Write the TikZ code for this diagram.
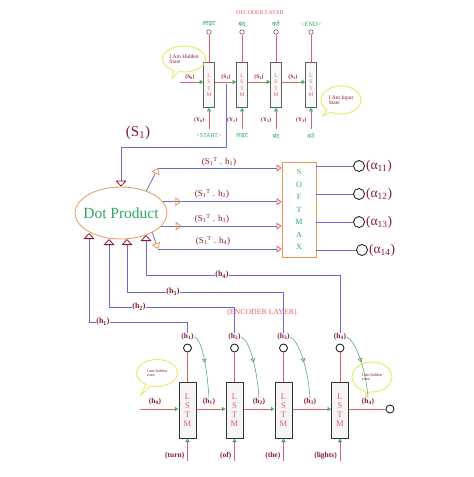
\documentclass[tikz,border=0pt]{standalone}
\usepackage{fontspec}
\setmainfont{Liberation Serif}
\newfontfamily\deva[Script=Devanagari]{Noto Sans}
\usetikzlibrary{arrows.meta,shapes.geometric,shapes.callouts,decorations.markings}
\definecolor{lred}{RGB}{225,95,105}
\definecolor{mar}{RGB}{135,25,55}
\definecolor{lblue}{RGB}{105,105,215}
\definecolor{grn}{RGB}{45,170,95}
\definecolor{org}{RGB}{240,150,85}
\definecolor{ylw}{RGB}{232,232,95}
\tikzset{
  fs/.style={font=\fontsize{#1}{#1}\selectfont},
  bfs/.style={font=\fontsize{#1}{#1}\selectfont\bfseries},
  dbox/.style={draw=gray!75!black, line width=0.6pt, fill=gray!5, minimum width=11pt, minimum height=45pt, inner sep=0pt, align=center, text=lred, font=\fontsize{5.5}{6.5}\selectfont},
  ebox/.style={draw=black!80, line width=1pt, fill=gray!8, minimum width=17pt, minimum height=56pt, inner sep=0pt, align=center, text=lred, font=\fontsize{8.5}{9}\selectfont},
  rline/.style={draw=lred, line width=0.8pt},
  bline/.style={draw=lblue, line width=0.8pt},
  gtip/.style={-{Triangle[open, length=3.5pt, width=4pt, color=grn]}},
  rtip/.style={-{Triangle[open, length=5pt, width=7pt, color=lred]}},
  mtip/.style={-{Triangle[open, length=6pt, width=11pt, color=mar, line width=0.8pt]}},
  otip/.style={-{Triangle[open, length=6pt, width=9pt, color=org]}},
  omid/.style={postaction={decorate}, decoration={markings, mark=at position #1 with {\arrow{Triangle[open, length=6pt, width=9pt, color=org]}}}},
  gmid/.style={postaction={decorate}, decoration={markings, mark=at position #1 with {\arrow{Triangle[open, length=4pt, width=5pt, color=gray!60!grn]}}}},
  lab/.style={text=mar, inner sep=0.5pt},
  smallcirc/.style={circle, draw=black!70, line width=0.5pt, minimum size=4.5pt, inner sep=0pt},
  outcirc/.style={circle, draw=black!85, line width=0.9pt, minimum size=8pt, inner sep=0pt},
  alcirc/.style={circle, draw=black!85, line width=0.9pt, minimum size=11pt, inner sep=0pt},
  bubble/.style={ellipse callout, draw=ylw, line width=0.9pt, inner sep=0.5pt, align=left, text=mar},
}
\begin{document}
\begin{tikzpicture}[x=1pt,y=-1pt]
\useasboundingbox (0,0) rectangle (474,477);
% ---------------- Decoder ----------------
\node[text=lred, fs=5.8] (declab) at (260,13) {DECODER LAYER};
\foreach \i/\x/\tp/\bt/\yy in {1/209/{\deva\bfseries लाइट}/{<START>}/0, 2/242/{\deva\bfseries बंद}/{\deva\bfseries लाइट}/1, 3/276/{\deva\bfseries करे}/{\deva\bfseries बंद}/2, 4/311/{<END>}/{\deva\bfseries करे}/3} {
  \node[dbox] (d\i) at (\x,85) {L\\S\\T\\M};
  \node[smallcirc] (dc\i) at (\x,32) {};
  \node[text=grn, fs=6.5, inner sep=0.5pt] (dt\i) at (\x,24) {\tp};
  \draw[rline] (d\i.north) -- (dc\i.south);
  \coordinate (dbi\i) at (\x,129);
  \draw[rline,gtip] (dbi\i) -- (d\i.south);
  \node[text=grn, fs=6, inner sep=0.5pt] (db\i) at (\x,136) {\bt};
  \node[lab, bfs=5.5, anchor=east] (dy\i) at (\x-4,120) {(Y\textsubscript{\yy})};
}
\coordinate (ds0) at (180,82);
\draw[rline,gtip] (ds0) -- (d1.west |- ds0);
\draw[rline,gtip] (d1.east |- ds0) -- (d2.west |- ds0);
\draw[rline,gtip] (d2.east |- ds0) -- (d3.west |- ds0);
\draw[rline,gtip] (d3.east |- ds0) -- (d4.west |- ds0);
\node[lab, bfs=5.5] (s0) at (190,77) {(S\textsubscript{0})};
\node[lab, bfs=5.5] (s1) at (226,77) {(S\textsubscript{1})};
\node[lab, bfs=5.5] (s2) at (259,77) {(S\textsubscript{2})};
\node[lab, bfs=5.5] (s3) at (293,77) {(S\textsubscript{3})};
\node[bubble, fs=5.5, minimum width=43pt, minimum height=26pt, callout absolute pointer={(172,78)}] (bub1) at (184,59) {I Am Hidden\\State};
\node[bubble, fs=5.5, minimum width=40pt, minimum height=28pt, callout absolute pointer={(323,116)}] (bub2) at (341,100) {I Am Input\\State};
% ---------------- Dot product ----------------
\node[ellipse, draw=org, line width=0.8pt, minimum width=92pt, minimum height=52pt, inner sep=0pt] (dp) at (121,213) {};
\node[text=grn, fs=15.5] (dptext) at (dp.center) {Dot Product};
\coordinate (sj) at (226,84);
\coordinate (sk) at (226,147);
\draw[bline, mtip] (sj) -- (sk) -| (dp.north);
\node[lab, fs=15] (bigS) at (138,133) {(S\textsubscript{1})};
% ---------------- Softmax ----------------
\node[draw=org, line width=0.8pt, minimum width=34pt, minimum height=95pt, inner sep=0pt] (sm) at (299,209.5) {};
\node[text=grn, align=center, font=\fontsize{8}{12.5}\selectfont] (smt) at (sm.center) {S\\O\\F\\T\\M\\A\\X};
\coordinate (o1) at (158,168);
\draw[bline, otip] (dp.41) -- (o1);
\draw[bline, rtip] (o1) -- (o1 -| sm.west);
\draw[bline, rtip, omid=0.155] (dp.15) -- (dp.15 -| sm.west);
\draw[bline, rtip, omid=0.17] (dp.-18) -- (dp.-18 -| sm.west);
\coordinate (o4) at (158,249);
\draw[bline, otip] (dp.-32) -- (o4);
\draw[bline, rtip] (o4) -- (o4 -| sm.west);
\node[lab, fs=9] (l1) at (219,162) {(S\textsubscript{1}\textsuperscript{T} . h\textsubscript{1})};
\node[lab, fs=9] (l2) at (212,194) {(S\textsubscript{1}\textsuperscript{T} . h\textsubscript{2})};
\node[lab, fs=9] (l3) at (212,219) {(S\textsubscript{1}\textsuperscript{T} . h\textsubscript{3})};
\node[lab, fs=9] (l4) at (213,241) {(S\textsubscript{1}\textsuperscript{T} . h\textsubscript{4})};
\foreach \i/\y/\cx in {1/166/359, 2/194/359, 3/222/359, 4/250/362} {
  \node[alcirc] (ac\i) at (\cx,\y) {};
  \draw[bline] (sm.east |- ac\i) -- (ac\i.west);
  \node[lab, fs=13.5, anchor=west, inner sep=1pt] (al\i) at (ac\i.east) {(α\textsubscript{1\i})};
}
% ---------------- Encoder ----------------
\node[text=lred, fs=7.8] (enclab) at (262,313) {(ENCODER LAYER)};
\foreach \i/\x in {1/187.5,2/234.5,3/283.5,4/340} {
  \node[ebox] (e\i) at (\x,410) {L\\S\\T\\M};
  \node[outcirc] (eo\i) at (\x,348) {};
  \draw[rline] (e\i.north) -- (eo\i.south);
  \node[lab, bfs=7.5] (eh\i) at (\x,337) {(h\textsubscript{\i})};
  \coordinate (ein\i) at (\x,461);
  \draw[rline, gtip] (ein\i) -- (e\i.south);
}
\node[lab, bfs=7.5, anchor=east] (w1) at (185,456) {(turn)};
\node[lab, bfs=7.5, anchor=east] (w2) at (232,456) {(of)};
\node[lab, bfs=7.5, anchor=east] (w3) at (281,456) {(the)};
\node[lab, bfs=7.5, anchor=east] (w4) at (337.5,456) {(lights)};
\coordinate (h0s) at (140,409);
\draw[rline,gtip] (h0s) -- (e1.west |- h0s);
\draw[rline,gtip] (e1.east |- h0s) -- (e2.west |- h0s);
\draw[rline,gtip] (e2.east |- h0s) -- (e3.west |- h0s);
\draw[rline,gtip] (e3.east |- h0s) -- (e4.west |- h0s);
\node[outcirc] (eend) at (390,409) {};
\draw[rline] (e4.east |- eend) -- (eend.west);
\node[lab, bfs=7.5] (hl0) at (155,402) {(h\textsubscript{0})};
\node[lab, bfs=7.5] (hl1) at (209,402) {(h\textsubscript{1})};
\node[lab, bfs=7.5] (hl2) at (259,402) {(h\textsubscript{2})};
\node[lab, bfs=7.5] (hl3) at (310,402) {(h\textsubscript{3})};
\node[lab, bfs=7.5] (hl4) at (368,402) {(h\textsubscript{4})};
\foreach \i in {1,...,4} {
  \draw[grn!70!gray, line width=0.5pt, gmid=0.45] (eh\i.east) .. controls +(8,3) and +(-2,-30) .. (hl\i.north);
}
\node[bubble, fs=4.2, minimum width=41pt, minimum height=27pt, callout absolute pointer={(141,395)}] (eb1) at (157,373) {I am hidden\\state};
\node[bubble, fs=4.2, minimum width=40pt, minimum height=30pt, callout absolute pointer={(366,397)}] (eb2) at (372,377) {I am hidden\\state};
% ---------------- Encoder to dot product ----------------
\coordinate (k1) at (89,322);  \coordinate (t1) at (89,233);
\coordinate (k2) at (109,307); \coordinate (t2) at (109,239);
\coordinate (k3) at (127,292); \coordinate (t3) at (127,239);
\coordinate (k4) at (146,275); \coordinate (t4) at (146,235);
\draw[bline, mtip] (eh1.north) |- (k1) -- (t1);
\draw[bline, mtip] (eh2.north) |- (k2) -- (t2);
\draw[bline, mtip] (eh3.north) |- (k3) -- (t3);
\draw[bline, mtip] (eh4.north) |- (k4) -- (t4);
\node[lab, bfs=8, fill=white] (hh1) at (103,322) {(h\textsubscript{1})};
\node[lab, bfs=8, fill=white] (hh2) at (139,307) {(h\textsubscript{2})};
\node[lab, bfs=8, fill=white] (hh3) at (173,292) {(h\textsubscript{3})};
\node[lab, bfs=8, fill=white] (hh4) at (222,275) {(h\textsubscript{4})};
\end{tikzpicture}
\end{document}
